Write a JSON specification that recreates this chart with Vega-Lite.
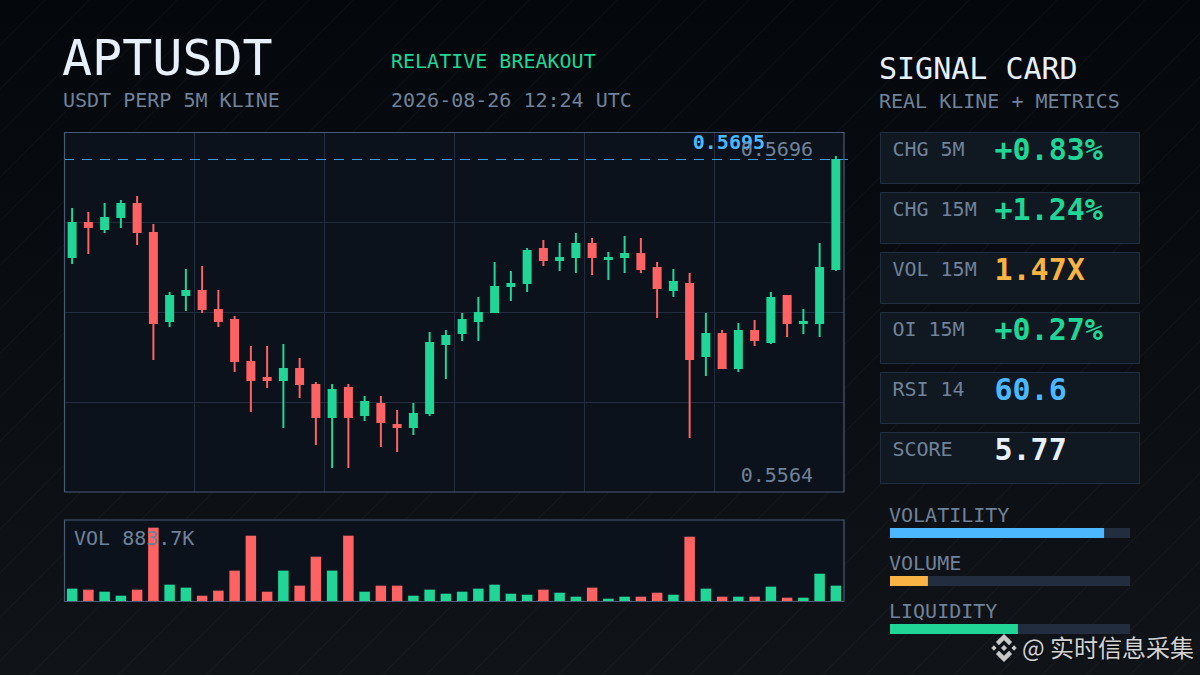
{
  "$schema": "https://vega.github.io/schema/vega-lite/v6.json",
  "width": 1200,
  "height": 675,
  "padding": 0,
  "autosize": {"type": "none"},
  "background": "#0a0d12",
  "config": {
    "view": {"stroke": null},
    "axis": {"disable": true},
    "legend": {"disable": true},
    "text": {"font": "DejaVu Sans Mono", "baseline": "middle", "align": "left", "fontSize": 20}
  },
  "datasets": {
    "klines": [
      {"i":0,"dir":"up","o":0.565285,"h":0.5674,"l":0.565031,"c":0.566808,"v":149},
      {"i":1,"dir":"down","o":0.566808,"h":0.567231,"l":0.565454,"c":0.566554,"v":137},
      {"i":2,"dir":"up","o":0.566469,"h":0.567612,"l":0.566342,"c":0.567019,"v":112},
      {"i":3,"dir":"up","o":0.566977,"h":0.567738,"l":0.566554,"c":0.567612,"v":64},
      {"i":4,"dir":"down","o":0.567612,"h":0.567908,"l":0.565835,"c":0.566342,"v":137},
      {"i":5,"dir":"down","o":0.566385,"h":0.566723,"l":0.560969,"c":0.562492,"v":883.7},
      {"i":6,"dir":"up","o":0.562577,"h":0.563846,"l":0.562365,"c":0.563719,"v":197},
      {"i":7,"dir":"up","o":0.563677,"h":0.564819,"l":0.563042,"c":0.563931,"v":161},
      {"i":8,"dir":"down","o":0.563931,"h":0.564946,"l":0.562958,"c":0.563085,"v":64},
      {"i":9,"dir":"down","o":0.563127,"h":0.563931,"l":0.562365,"c":0.562577,"v":125},
      {"i":10,"dir":"down","o":0.562704,"h":0.562831,"l":0.560462,"c":0.560885,"v":366},
      {"i":11,"dir":"down","o":0.560927,"h":0.561562,"l":0.558769,"c":0.560081,"v":787},
      {"i":12,"dir":"down","o":0.56025,"h":0.561562,"l":0.559785,"c":0.560081,"v":112},
      {"i":13,"dir":"up","o":0.560081,"h":0.561646,"l":0.558092,"c":0.560631,"v":366},
      {"i":14,"dir":"down","o":0.560631,"h":0.561054,"l":0.559362,"c":0.559912,"v":185},
      {"i":15,"dir":"down","o":0.559954,"h":0.560038,"l":0.557373,"c":0.558515,"v":534},
      {"i":16,"dir":"up","o":0.558515,"h":0.559954,"l":0.5564,"c":0.559742,"v":366},
      {"i":17,"dir":"down","o":0.559827,"h":0.559954,"l":0.5564,"c":0.558515,"v":787},
      {"i":18,"dir":"up","o":0.5586,"h":0.559446,"l":0.558388,"c":0.559235,"v":112},
      {"i":19,"dir":"down","o":0.55915,"h":0.559446,"l":0.557288,"c":0.558304,"v":185},
      {"i":20,"dir":"down","o":0.558262,"h":0.558854,"l":0.557077,"c":0.558092,"v":185},
      {"i":21,"dir":"up","o":0.558092,"h":0.55915,"l":0.557796,"c":0.558727,"v":64},
      {"i":22,"dir":"up","o":0.558685,"h":0.562154,"l":0.5586,"c":0.561731,"v":137},
      {"i":23,"dir":"up","o":0.561604,"h":0.562238,"l":0.560165,"c":0.562027,"v":88},
      {"i":24,"dir":"up","o":0.562069,"h":0.562958,"l":0.561773,"c":0.562704,"v":112},
      {"i":25,"dir":"up","o":0.562577,"h":0.563635,"l":0.561773,"c":0.563,"v":149},
      {"i":26,"dir":"up","o":0.562958,"h":0.565115,"l":0.562958,"c":0.5641,"v":197},
      {"i":27,"dir":"up","o":0.564058,"h":0.564735,"l":0.563465,"c":0.564227,"v":88},
      {"i":28,"dir":"up","o":0.564185,"h":0.565708,"l":0.563846,"c":0.565623,"v":76},
      {"i":29,"dir":"down","o":0.565708,"h":0.566046,"l":0.564946,"c":0.565158,"v":137},
      {"i":30,"dir":"up","o":0.565158,"h":0.565919,"l":0.564735,"c":0.565327,"v":100},
      {"i":31,"dir":"up","o":0.565285,"h":0.566342,"l":0.56465,"c":0.565919,"v":52},
      {"i":32,"dir":"down","o":0.565919,"h":0.566131,"l":0.564565,"c":0.565285,"v":161},
      {"i":33,"dir":"up","o":0.5652,"h":0.565538,"l":0.564354,"c":0.565327,"v":28},
      {"i":34,"dir":"up","o":0.565285,"h":0.566215,"l":0.56465,"c":0.565496,"v":52},
      {"i":35,"dir":"down","o":0.565496,"h":0.566131,"l":0.56465,"c":0.564777,"v":52},
      {"i":36,"dir":"down","o":0.564904,"h":0.565115,"l":0.562746,"c":0.563973,"v":100},
      {"i":37,"dir":"up","o":0.563888,"h":0.564819,"l":0.563635,"c":0.564312,"v":76},
      {"i":38,"dir":"down","o":0.564227,"h":0.56465,"l":0.557669,"c":0.560969,"v":775},
      {"i":39,"dir":"up","o":0.561096,"h":0.562958,"l":0.560292,"c":0.562112,"v":149},
      {"i":40,"dir":"down","o":0.562112,"h":0.562238,"l":0.560588,"c":0.560588,"v":52},
      {"i":41,"dir":"up","o":0.560588,"h":0.562535,"l":0.560462,"c":0.562238,"v":52},
      {"i":42,"dir":"down","o":0.562238,"h":0.562662,"l":0.561562,"c":0.561773,"v":52},
      {"i":43,"dir":"up","o":0.561688,"h":0.563846,"l":0.561646,"c":0.563635,"v":173},
      {"i":44,"dir":"down","o":0.563719,"h":0.563719,"l":0.561942,"c":0.562492,"v":40},
      {"i":45,"dir":"up","o":0.562492,"h":0.563127,"l":0.562069,"c":0.562619,"v":40},
      {"i":46,"dir":"up","o":0.562492,"h":0.565919,"l":0.561942,"c":0.564904,"v":329},
      {"i":47,"dir":"up","o":0.564777,"h":0.5696,"l":0.564735,"c":0.569473,"v":185}
    ],
    "cards": [
      {"metric":"CHG 5M","reading":"+0.83%","tone":"up"},
      {"metric":"CHG 15M","reading":"+1.24%","tone":"up"},
      {"metric":"VOL 15M","reading":"1.47X","tone":"warn"},
      {"metric":"OI 15M","reading":"+0.27%","tone":"up"},
      {"metric":"RSI 14","reading":"60.6","tone":"info"},
      {"metric":"SCORE","reading":"5.77","tone":"plain"}
    ],
    "gauges": [
      {"gauge":"VOLATILITY","pct":89.2,"tone":"info"},
      {"gauge":"VOLUME","pct":15.8,"tone":"warn"},
      {"gauge":"LIQUIDITY","pct":53.3,"tone":"up"}
    ]
  },
  "layer": [
    {
      "layer": [
        {
          "data": {"values": [{"part": "canvas"}]},
          "mark": {
            "type": "rect",
            "fill": {
              "gradient": "linear",
              "x1": 0, "y1": 0, "x2": 0, "y2": 1,
              "stops": [
                {"offset": 0, "color": "#04070c"},
                {"offset": 0.5, "color": "#0a0d12"},
                {"offset": 1, "color": "#101318"}
              ]
            }
          },
          "encoding": {
            "x": {"datum": 0, "type": "quantitative", "scale": {"domain": [0, 1200], "range": [0, 1200], "nice": false}},
            "x2": {"datum": 1200},
            "y": {"datum": 0, "type": "quantitative", "scale": {"domain": [0, 675], "range": [0, 675], "nice": false}},
            "y2": {"datum": 675}
          }
        },
        {
          "data": {"values": [
            {"top":45,"bottom":-630},{"top":89,"bottom":-586},{"top":133,"bottom":-542},{"top":177,"bottom":-498},
            {"top":221,"bottom":-454},{"top":265,"bottom":-410},{"top":309,"bottom":-366},{"top":353,"bottom":-322},
            {"top":397,"bottom":-278},{"top":441,"bottom":-234},{"top":485,"bottom":-190},{"top":529,"bottom":-146},
            {"top":573,"bottom":-102},{"top":617,"bottom":-58},{"top":661,"bottom":-14},{"top":705,"bottom":30},
            {"top":749,"bottom":74},{"top":793,"bottom":118},{"top":837,"bottom":162},{"top":881,"bottom":206},
            {"top":925,"bottom":250},{"top":969,"bottom":294},{"top":1013,"bottom":338},{"top":1057,"bottom":382},
            {"top":1101,"bottom":426},{"top":1145,"bottom":470},{"top":1189,"bottom":514},{"top":1233,"bottom":558},
            {"top":1277,"bottom":602},{"top":1321,"bottom":646},{"top":1365,"bottom":690},{"top":1409,"bottom":734},
            {"top":1453,"bottom":778},{"top":1497,"bottom":822},{"top":1541,"bottom":866},{"top":1585,"bottom":910},
            {"top":1629,"bottom":954},{"top":1673,"bottom":998},{"top":1717,"bottom":1042},{"top":1761,"bottom":1086},
            {"top":1805,"bottom":1130},{"top":1849,"bottom":1174}
          ]},
          "mark": {"type": "rule", "stroke": "#ffffff", "strokeOpacity": 0.035, "strokeWidth": 1},
          "encoding": {
            "x": {"field": "top", "type": "quantitative"},
            "x2": {"field": "bottom"},
            "y": {"datum": 0, "type": "quantitative"},
            "y2": {"datum": 675}
          }
        }
      ]
    },
    {
      "layer": [
        {
          "data": {"values": [{"panel": "price"}]},
          "mark": {"type": "rect", "fill": "#0b121c"},
          "encoding": {
            "x": {"datum": -0.5, "type": "quantitative", "scale": {"domain": [-0.5, 47.5], "range": [64, 844], "nice": false, "padding": 0}},
            "x2": {"datum": 47.5},
            "y": {"datum": 0.570615, "type": "quantitative", "scale": {"domain": [0.555385, 0.570615], "range": [492, 132], "nice": false, "zero": false}},
            "y2": {"datum": 0.555385}
          }
        },
        {
          "data": {"values": [{"i": 7.5}, {"i": 15.5}, {"i": 23.5}, {"i": 31.5}, {"i": 39.5}]},
          "mark": {"type": "rule", "stroke": "#232d3d", "strokeWidth": 1, "xOffset": 0.5},
          "encoding": {
            "x": {"field": "i", "type": "quantitative"},
            "y": {"datum": 0.570615, "type": "quantitative"},
            "y2": {"datum": 0.555385}
          }
        },
        {
          "data": {"values": [{"price": 0.566808}, {"price": 0.563}, {"price": 0.559192}]},
          "mark": {"type": "rule", "stroke": "#232d3d", "strokeWidth": 1, "yOffset": 0.5},
          "encoding": {
            "x": {"datum": -0.5, "type": "quantitative"},
            "x2": {"datum": 47.5},
            "y": {"field": "price", "type": "quantitative"}
          }
        },
        {
          "data": {"name": "klines"},
          "mark": {"type": "rule", "strokeWidth": 2},
          "encoding": {
            "x": {"field": "i", "type": "quantitative"},
            "y": {"field": "h", "type": "quantitative"},
            "y2": {"field": "l"},
            "color": {
              "field": "dir",
              "type": "nominal",
              "scale": {
                "domain": ["up", "down", "warn", "info", "plain", "muted"],
                "range": ["#20d596", "#ff6262", "#f7b344", "#4cb8ff", "#e8f1fb", "#708299"]
              }
            }
          }
        },
        {
          "data": {"name": "klines"},
          "mark": {"type": "bar", "size": 9},
          "encoding": {
            "x": {"field": "i", "type": "quantitative"},
            "y": {"field": "o", "type": "quantitative"},
            "y2": {"field": "c"},
            "color": {"field": "dir", "type": "nominal"}
          }
        },
        {
          "data": {"values": [{"price": 0.569473}]},
          "mark": {"type": "rule", "stroke": "#4cb8ff", "strokeOpacity": 0.85, "strokeWidth": 1, "strokeDash": [10, 8], "yOffset": 0.5},
          "encoding": {
            "x": {"datum": -0.5, "type": "quantitative"},
            "x2": {"datum": 47.75},
            "y": {"field": "price", "type": "quantitative"}
          }
        },
        {
          "data": {"values": [{"panel": "price"}]},
          "mark": {"type": "rect", "fill": null, "stroke": "#4a5a72", "strokeWidth": 1.2, "xOffset": 0.5, "yOffset": 0.5},
          "encoding": {
            "x": {"datum": -0.5, "type": "quantitative"},
            "x2": {"datum": 47.5},
            "y": {"datum": 0.570615, "type": "quantitative"},
            "y2": {"datum": 0.555385}
          }
        },
        {
          "data": {"values": [{"price": 0.569473}]},
          "mark": {"type": "text", "align": "right", "fontWeight": "bold", "dy": -16, "color": "#4cb8ff"},
          "encoding": {
            "x": {"datum": 42.64, "type": "quantitative"},
            "y": {"field": "price", "type": "quantitative"},
            "text": {"field": "price", "type": "quantitative", "format": ".4f"}
          }
        },
        {
          "data": {"values": [{"price": 0.5696}]},
          "mark": {"type": "text", "align": "right", "dy": -6, "color": "#708299"},
          "encoding": {
            "x": {"datum": 45.59, "type": "quantitative"},
            "y": {"field": "price", "type": "quantitative"},
            "text": {"field": "price", "type": "quantitative", "format": ".4f"}
          }
        },
        {
          "data": {"values": [{"price": 0.5564}]},
          "mark": {"type": "text", "align": "right", "dy": 8, "color": "#708299"},
          "encoding": {
            "x": {"datum": 45.59, "type": "quantitative"},
            "y": {"field": "price", "type": "quantitative"},
            "text": {"field": "price", "type": "quantitative", "format": ".4f"}
          }
        }
      ]
    },
    {
      "layer": [
        {
          "data": {"values": [{"panel": "volume"}]},
          "mark": {"type": "rect", "fill": "#0b121c"},
          "encoding": {
            "x": {"datum": -0.5, "type": "quantitative", "scale": {"domain": [-0.5, 47.5], "range": [64, 844], "nice": false, "padding": 0}},
            "x2": {"datum": 47.5},
            "y": {"datum": 0, "type": "quantitative", "scale": {"domain": [0, 976], "range": [601, 520], "nice": false}},
            "y2": {"datum": 976}
          }
        },
        {
          "data": {"name": "klines"},
          "mark": {"type": "bar", "size": 10.5},
          "encoding": {
            "x": {"field": "i", "type": "quantitative"},
            "y": {"field": "v", "type": "quantitative", "stack": null},
            "color": {"field": "dir", "type": "nominal"}
          }
        },
        {
          "data": {"values": [{"panel": "volume"}]},
          "mark": {"type": "rect", "fill": null, "stroke": "#4a5a72", "strokeWidth": 1.2, "xOffset": 0.5, "yOffset": 0.5},
          "encoding": {
            "x": {"datum": -0.5, "type": "quantitative"},
            "x2": {"datum": 47.5},
            "y": {"datum": 0, "type": "quantitative"},
            "y2": {"datum": 976}
          }
        },
        {
          "data": {"values": [{"v": 883.7, "text": "VOL 883.7K"}]},
          "mark": {"type": "text", "dy": 11, "color": "#708299"},
          "encoding": {
            "x": {"datum": 0.115, "type": "quantitative"},
            "y": {"field": "v", "type": "quantitative"},
            "text": {"field": "text"}
          }
        }
      ]
    },
    {
      "data": {"values": [
        {"col": "symbol", "line": "sub", "text": "USDT PERP 5M KLINE", "tone": "muted"},
        {"col": "status", "line": "top", "text": "RELATIVE BREAKOUT", "tone": "up"},
        {"col": "status", "line": "sub", "text": "2026-08-26 12:24 UTC", "tone": "muted"}
      ]},
      "mark": {"type": "text"},
      "encoding": {
        "x": {"field": "col", "type": "nominal", "scale": {"domain": ["symbol", "status"], "range": [63, 391], "padding": 0}},
        "y": {"field": "line", "type": "nominal", "scale": {"domain": ["top", "sub"], "range": [62, 101], "padding": 0}},
        "text": {"field": "text"},
        "color": {"field": "tone", "type": "nominal"}
      }
    },
    {
      "data": {"values": [{"text": "APTUSDT", "tone": "plain"}]},
      "mark": {"type": "text", "fontSize": 50},
      "encoding": {
        "x": {"field": "text", "type": "nominal", "scale": {"range": [62, 62]}},
        "y": {"field": "text", "type": "nominal", "scale": {"range": [60, 60]}},
        "text": {"field": "text"},
        "color": {"field": "tone", "type": "nominal"}
      }
    },
    {
      "data": {"values": [{"text": "SIGNAL CARD", "tone": "plain"}]},
      "mark": {"type": "text", "fontSize": 30},
      "encoding": {
        "x": {"field": "text", "type": "nominal", "scale": {"range": [879, 879]}},
        "y": {"field": "text", "type": "nominal", "scale": {"range": [70, 70]}},
        "text": {"field": "text"},
        "color": {"field": "tone", "type": "nominal"}
      }
    },
    {
      "data": {"values": [{"text": "REAL KLINE + METRICS", "tone": "muted"}]},
      "mark": {"type": "text"},
      "encoding": {
        "x": {"field": "text", "type": "nominal", "scale": {"range": [879, 879]}},
        "y": {"field": "text", "type": "nominal", "scale": {"range": [102, 102]}},
        "text": {"field": "text"},
        "color": {"field": "tone", "type": "nominal"}
      }
    },
    {
      "data": {"name": "cards"},
      "layer": [
        {
          "mark": {"type": "rect", "fill": "#101822", "stroke": "#222e3f", "strokeWidth": 1},
          "encoding": {
            "x": {"datum": 0, "type": "quantitative", "scale": {"domain": [0, 1], "range": [880.5, 1139.5], "nice": false}},
            "x2": {"datum": 1},
            "y": {
              "field": "metric",
              "type": "nominal",
              "sort": null,
              "scale": {
                "domain": ["CHG 5M", "CHG 15M", "VOL 15M", "OI 15M", "RSI 14", "SCORE"],
                "range": [132.5, 483.5],
                "paddingInner": 0.15,
                "paddingOuter": 0
              }
            }
          }
        },
        {
          "mark": {"type": "text", "dy": -8, "color": "#708299"},
          "encoding": {
            "x": {"datum": 0.046, "type": "quantitative"},
            "y": {"field": "metric", "type": "nominal"},
            "text": {"field": "metric"}
          }
        },
        {
          "mark": {"type": "text", "dy": -7, "fontSize": 30, "fontWeight": "bold"},
          "encoding": {
            "x": {"datum": 0.44, "type": "quantitative"},
            "y": {"field": "metric", "type": "nominal"},
            "text": {"field": "reading"},
            "color": {"field": "tone", "type": "nominal"}
          }
        }
      ]
    },
    {
      "data": {"name": "gauges"},
      "layer": [
        {
          "mark": {"type": "rect", "fill": "#222e40"},
          "encoding": {
            "x": {"datum": 0, "type": "quantitative", "scale": {"domain": [0, 100], "range": [890, 1130], "nice": false}},
            "x2": {"datum": 100},
            "y": {
              "field": "gauge",
              "type": "nominal",
              "scale": {
                "domain": ["VOLATILITY", "VOLUME", "LIQUIDITY"],
                "range": [528, 634],
                "paddingInner": 0.79167,
                "paddingOuter": 0
              }
            }
          }
        },
        {
          "mark": {"type": "bar"},
          "encoding": {
            "x": {"field": "pct", "type": "quantitative", "stack": null},
            "y": {"field": "gauge", "type": "nominal"},
            "color": {"field": "tone", "type": "nominal"}
          }
        },
        {
          "mark": {"type": "text", "dy": -17, "dx": -1, "color": "#708299"},
          "encoding": {
            "x": {"datum": 0, "type": "quantitative"},
            "y": {"field": "gauge", "type": "nominal"},
            "text": {"field": "gauge"}
          }
        }
      ]
    },
    {
      "layer": [
        {
          "data": {"values": [{"part": "logo"}]},
          "mark": {
            "type": "point",
            "filled": true,
            "fill": "#d2d2d2",
            "fillOpacity": 0.95,
            "size": 784,
            "shape": "M0,-0.22L0.22,0L0,0.22L-0.22,0ZM-0.72,-0.19L-0.53,0L-0.72,0.19L-0.91,0ZM0.72,-0.19L0.91,0L0.72,0.19L0.53,0ZM0,-1L0.58,-0.42L0.36,-0.2L0,-0.56L-0.36,-0.2L-0.58,-0.42ZM0,1L0.58,0.42L0.36,0.2L0,0.56L-0.36,0.2L-0.58,0.42Z"
          },
          "encoding": {
            "x": {"field": "part", "type": "nominal", "scale": {"domain": ["logo", "label"], "range": [1004, 1022], "padding": 0}},
            "y": {"field": "part", "type": "nominal", "scale": {"domain": ["logo", "label"], "range": [648, 648], "padding": 0}}
          }
        },
        {
          "data": {"values": [{"part": "label", "text": "@ 实时信息采集"}]},
          "mark": {"type": "text", "font": "Noto Sans CJK SC", "fontSize": 24, "color": "#000000", "opacity": 0.55, "dx": 1, "dy": 3},
          "encoding": {
            "x": {"field": "part", "type": "nominal"},
            "y": {"field": "part", "type": "nominal"},
            "text": {"field": "text"}
          }
        },
        {
          "data": {"values": [{"part": "label", "text": "@ 实时信息采集"}]},
          "mark": {"type": "text", "font": "Noto Sans CJK SC", "fontSize": 24, "dy": 2, "color": "#d2d2d2"},
          "encoding": {
            "x": {"field": "part", "type": "nominal"},
            "y": {"field": "part", "type": "nominal"},
            "text": {"field": "text"}
          }
        }
      ]
    }
  ],
  "resolve": {"scale": {"x": "independent", "y": "independent"}}
}
